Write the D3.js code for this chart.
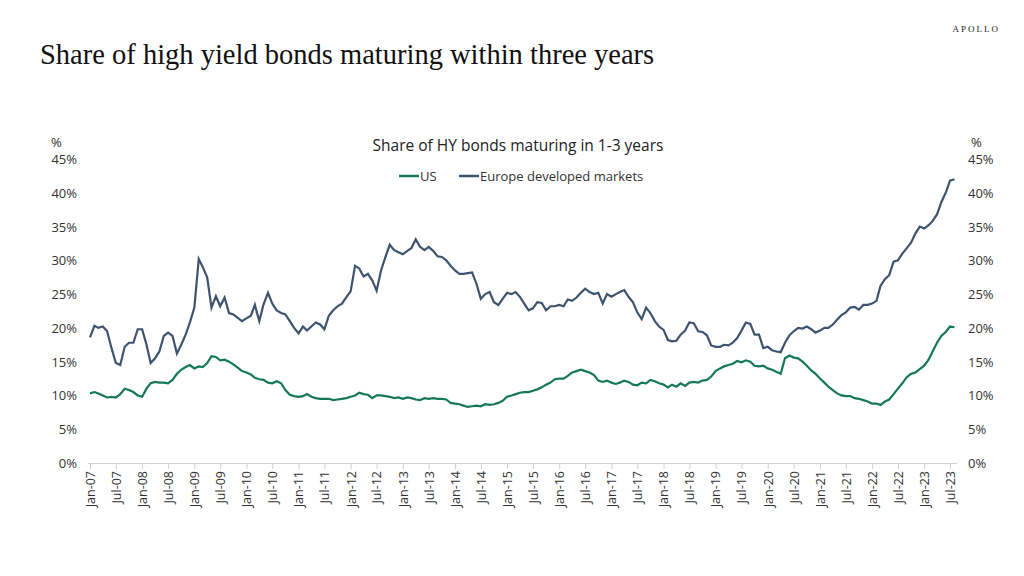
<!DOCTYPE html>
<html>
<head>
<meta charset="utf-8">
<script src="https://cdn.jsdelivr.net/npm/d3@7"></script>
<style>
  body { margin: 0; background: #fff; }
  svg { display: block; }
</style>
</head>
<body>
<svg id="chart" width="1024" height="576"></svg>
<script>
// monthly values, Jan-07 .. Aug-23
var europe = [
  18.6,20.3,20,20.2,19.5,17, 14.8,14.5,17.2,17.8,17.8,19.8,
  19.8,17.5,14.8,15.5,16.5,18.8, 19.3,18.8,16.2,17.5,19,20.8,
  23,30.2,29,27.5,23,24.7, 23.2,24.5,22.2,22,21.5,21,
  21.4,21.8,23.4,21,23.5,25.2, 23.6,22.6,22.2,22,21,20,
  19.2,20.2,19.6,20.2,20.8,20.5, 19.8,21.8,22.6,23.2,23.6,24.5,
  25.4,29.2,28.8,27.6,28,27, 25.5,28.5,30.5,32.3,31.5,31.2,
  30.9,31.4,31.8,33.1,32,31.5, 32,31.4,30.6,30.5,30,29.2,
  28.5,28,28,28.1,28.2,26.5, 24.3,25,25.3,23.8,23.4,24.3,
  25.2,25,25.3,24.6,23.6,22.6, 22.9,23.8,23.7,22.6,23.2,23.2,
  23.4,23.2,24.2,24,24.5,25.2, 25.8,25.3,25,25.2,23.6,25,
  24.6,25,25.3,25.6,24.6,23.8, 22.3,21.3,23,22.2,21,20.2,
  19.7,18.2,18,18.1,19,19.6, 20.8,20.7,19.5,19.4,18.9,17.4,
  17.2,17.2,17.5,17.4,17.8,18.5, 19.6,20.8,20.6,19,19,17,
  17.2,16.7,16.5,16.4,17.8,18.9, 19.5,20,19.9,20.2,19.8,19.3,
  19.6,20,20,20.5,21.2,21.9, 22.3,23,23.1,22.7,23.4,23.4,
  23.6,24,26.2,27.2,27.8,29.8, 30,31,31.8,32.6,34,35,
  34.7,35.2,35.8,36.8,38.6,40,41.8,42
];
var us = [
  10.3,10.5,10.3,10,9.7,9.8, 9.7,10.2,11,10.8,10.5,10,
  9.8,11,11.8,12,11.9,11.9, 11.8,12.3,13.2,13.8,14.2,14.5,
  14,14.3,14.2,14.8,15.8,15.7, 15.2,15.3,15,14.6,14.1,13.6,
  13.4,13.1,12.6,12.4,12.3,11.9, 11.8,12.1,11.8,10.8,10.1,9.9,
  9.8,9.9,10.2,9.8,9.6,9.5, 9.5,9.5,9.3,9.4,9.5,9.6,
  9.8,10,10.4,10.2,10.1,9.6, 10,10,9.9,9.8,9.6,9.7,
  9.5,9.7,9.6,9.4,9.3,9.6, 9.5,9.6,9.5,9.5,9.4,8.9,
  8.8,8.7,8.5,8.3,8.4,8.5, 8.4,8.7,8.6,8.7,8.9,9.2,
  9.8,10,10.2,10.4,10.5,10.5, 10.7,10.9,11.2,11.6,11.9,12.4,
  12.5,12.5,12.9,13.4,13.6,13.8, 13.6,13.4,13,12.2,12,12.2,
  11.9,11.7,11.9,12.2,12,11.6, 11.5,11.9,11.8,12.3,12.1,11.8,
  11.6,11.2,11.6,11.3,11.8,11.4, 11.9,12,11.9,12.2,12.3,12.8,
  13.6,14,14.3,14.5,14.7,15.1, 14.9,15.2,15,14.4,14.3,14.4,
  14,13.8,13.5,13.2,15.5,15.9, 15.6,15.5,15,14.4,13.7,13.2,
  12.5,11.9,11.3,10.8,10.3,10, 9.9,9.9,9.6,9.5,9.3,9.1,
  8.8,8.8,8.6,9.1,9.4,10.2, 11,11.8,12.7,13.2,13.4,13.9,
  14.4,15.3,16.5,17.8,18.8,19.4,20.2,20.1
];
var yTicks = [0,5,10,15,20,25,30,35,40,45];
var seriesNames = ["US", "Europe developed markets"];
var colors = ["#16785a", "#3d5370"];

var svg = d3.select("#chart");
var dates = europe.map(function (d, i) { return new Date(2007, i, 1); });

var x = d3.scaleTime().domain([new Date(2007, 0, 1), new Date(2023, 6, 1)]).range([90, 950]);
var y = d3.scaleLinear().domain([0, 45]).range([463, 159]);

svg.append("text").attr("x", 40).attr("y", 64)
  .style("font-family", "Liberation Serif, serif").style("font-size", "28.5px").style("fill", "#111")
  .text("Share of high yield bonds maturing within three years");
svg.append("text").attr("x", 1000).attr("y", 32).attr("text-anchor", "end")
  .style("font-family", "Liberation Serif, serif").style("font-size", "9px").style("letter-spacing", "2px").style("fill", "#222")
  .text("APOLLO");

svg.append("text").attr("x", 518).attr("y", 151).attr("text-anchor", "middle")
  .style("font-family", "Open Sans, sans-serif").style("font-size", "15.5px").style("fill", "#222")
  .text("Share of HY bonds maturing in 1-3 years");

// legend
var lg = svg.append("g").style("font-family", "Open Sans, sans-serif").style("font-size", "13px");
[[399, 0], [459, 1]].forEach(function (p) {
  lg.append("line").attr("x1", p[0]).attr("x2", p[0] + 20).attr("y1", 176).attr("y2", 176)
    .attr("stroke", colors[p[1]]).attr("stroke-width", 2.5);
  lg.append("text").attr("x", p[0] + 21).attr("y", 181).style("fill", "#333").text(seriesNames[p[1]]);
});

// y labels both sides
var yl = svg.append("g").style("font-family", "Open Sans, sans-serif").style("font-size", "13px").style("fill", "#333");
yTicks.forEach(function (t) {
  yl.append("text").attr("x", 77).attr("y", y(t) + 5).attr("text-anchor", "end").text(t + "%");
  yl.append("text").attr("x", 968).attr("y", y(t) + 5).attr("text-anchor", "start").text(t + "%");
});
yl.append("text").attr("x", 51).attr("y", 147).text("%");
yl.append("text").attr("x", 971).attr("y", 147).text("%");

// x axis
var xTicks = [];
for (var yr = 2007; yr <= 2023; yr++) { xTicks.push(new Date(yr, 0, 1)); xTicks.push(new Date(yr, 6, 1)); }
var xAxis = d3.axisBottom(x).tickValues(xTicks).tickSize(6).tickFormat(d3.timeFormat("%b-%y"));
var gx = svg.append("g").attr("transform", "translate(0,463)").call(xAxis);
gx.select(".domain").attr("stroke", "#d0d0d0").attr("d", "M88,0.5H957");
gx.selectAll(".tick line").attr("stroke", "#d0d0d0");
gx.selectAll(".tick text")
  .style("font-family", "Open Sans, sans-serif").style("font-size", "12.5px").style("fill", "#333")
  .attr("transform", "rotate(-90)").attr("text-anchor", "end")
  .attr("x", -8).attr("y", 0).attr("dy", "0.35em");

var line = d3.line().x(function (d, i) { return x(dates[i]); }).y(function (d) { return y(d); });
svg.append("path").datum(us).attr("d", line).attr("fill", "none").attr("stroke", colors[0]).attr("stroke-width", 2.2);
svg.append("path").datum(europe).attr("d", line).attr("fill", "none").attr("stroke", colors[1]).attr("stroke-width", 2.2);
</script>
</body>
</html>
